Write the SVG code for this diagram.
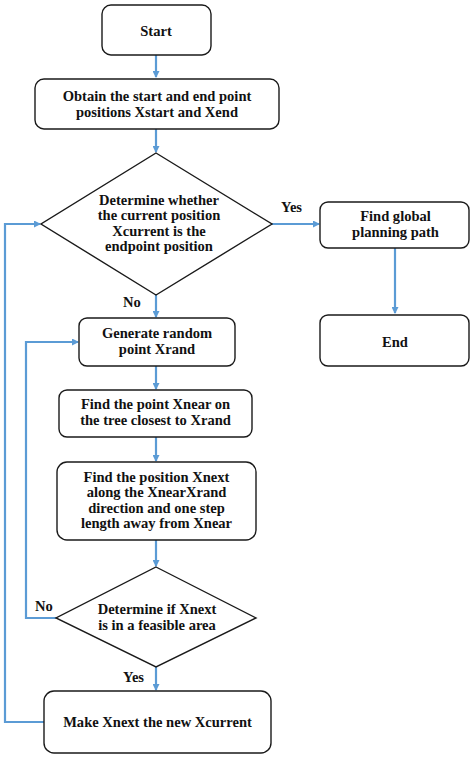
<svg xmlns="http://www.w3.org/2000/svg" width="474" height="758" viewBox="0 0 474 758">
<defs>
<marker id="ah" markerWidth="7" markerHeight="7" refX="6" refY="3.5" orient="auto" markerUnits="userSpaceOnUse">
<path d="M0,0 L7,3.5 L0,7 Z" fill="#5b9bd5"/>
</marker>
</defs>
<style>
.box{fill:#fff;stroke:#1a1a1a;stroke-width:1.4}
.t{font-family:'Liberation Serif','DejaVu Serif',serif;font-weight:700;font-size:15px;fill:#111;text-anchor:middle}
.lbl{font-family:'Liberation Serif','DejaVu Serif',serif;font-weight:700;font-size:15.5px;fill:#111}
.c{fill:none;stroke:#5b9bd5;stroke-width:2.2}
</style>
<rect width="474" height="758" fill="#fff"/>
<g id="connectors">
<path class="c" d="M156,55 V77" marker-end="url(#ah)"/>
<path class="c" d="M156,129 V152" marker-end="url(#ah)"/>
<path class="c" d="M272,224 H319" marker-end="url(#ah)"/>
<path class="c" d="M395,248 V313" marker-end="url(#ah)"/>
<path class="c" d="M156,295 V317" marker-end="url(#ah)"/>
<path class="c" d="M156,366 V389" marker-end="url(#ah)"/>
<path class="c" d="M156,437 V461" marker-end="url(#ah)"/>
<path class="c" d="M156,540 V566" marker-end="url(#ah)"/>
<path class="c" d="M156,667 V690" marker-end="url(#ah)"/>
<path class="c" d="M56,618 H26 V342 H78" marker-end="url(#ah)"/>
<path class="c" d="M44,722 H5 V224 H40" marker-end="url(#ah)"/>
<g transform="translate(281,0) scale(0.94,1)"><text class="lbl" x="0" y="212">Yes</text></g>
<g transform="translate(123,0) scale(0.94,1)"><text class="lbl" x="0" y="307">No</text></g>
<g transform="translate(35,0) scale(0.94,1)"><text class="lbl" x="0" y="611">No</text></g>
<g transform="translate(123,0) scale(0.94,1)"><text class="lbl" x="0" y="682">Yes</text></g>
</g>
<g id="start">
<rect class="box" x="102" y="5" width="109" height="50" rx="9"/>
<g transform="translate(156,0) scale(0.97,1)"><text class="t" x="0" y="36">Start</text></g>
</g>
<g id="obtain">
<rect class="box" x="35" y="79" width="244" height="50" rx="9"/>
<g transform="translate(157,0) scale(0.97,1)">
<text class="t" x="0" y="101.5">Obtain the start and end point</text>
<text class="t" x="0" y="117">positions Xstart and Xend</text>
</g>
</g>
<g id="decide1">
<polygon class="box" points="156,153 272,224 156,295 41,224"/>
<g transform="translate(159,0) scale(0.97,1)">
<text class="t" x="0" y="205">Determine whether</text>
<text class="t" x="0" y="220.5">the current position</text>
<text class="t" x="0" y="236">Xcurrent is the</text>
<text class="t" x="0" y="251.5">endpoint position</text>
</g>
</g>
<g id="global">
<rect class="box" x="320" y="202" width="149" height="46" rx="8"/>
<g transform="translate(395.5,0) scale(0.97,1)">
<text class="t" x="0" y="221.5">Find global</text>
<text class="t" x="0" y="237">planning path</text>
</g>
</g>
<g id="end">
<rect class="box" x="320" y="315" width="149" height="51" rx="8"/>
<g transform="translate(395,0) scale(0.97,1)"><text class="t" x="0" y="347">End</text></g>
</g>
<g id="generate">
<rect class="box" x="79" y="318" width="156" height="48" rx="8"/>
<g transform="translate(157,0) scale(0.97,1)">
<text class="t" x="0" y="338.5">Generate random</text>
<text class="t" x="0" y="354">point Xrand</text>
</g>
</g>
<g id="nearest">
<rect class="box" x="59" y="390" width="193" height="47" rx="8"/>
<g transform="translate(155.5,0) scale(0.97,1)">
<text class="t" x="0" y="409.5">Find the point Xnear on</text>
<text class="t" x="0" y="425">the tree closest to Xrand</text>
</g>
</g>
<g id="next">
<rect class="box" x="57" y="462" width="199" height="78" rx="10"/>
<g transform="translate(156.5,0) scale(0.97,1)">
<text class="t" x="0" y="482">Find the position Xnext</text>
<text class="t" x="0" y="497.5">along the XnearXrand</text>
<text class="t" x="0" y="513">direction and one step</text>
<text class="t" x="0" y="528.5">length away from Xnear</text>
</g>
</g>
<g id="decide2">
<polygon class="box" points="156,567 256,618 156,667 56,618"/>
<g transform="translate(157,0) scale(0.97,1)">
<text class="t" x="0" y="614.5">Determine if Xnext</text>
<text class="t" x="0" y="630">is in a feasible area</text>
</g>
</g>
<g id="make">
<rect class="box" x="44" y="691" width="227" height="62" rx="10"/>
<g transform="translate(157.5,0) scale(0.97,1)"><text class="t" x="0" y="727">Make Xnext the new Xcurrent</text></g>
</g>
</svg>
